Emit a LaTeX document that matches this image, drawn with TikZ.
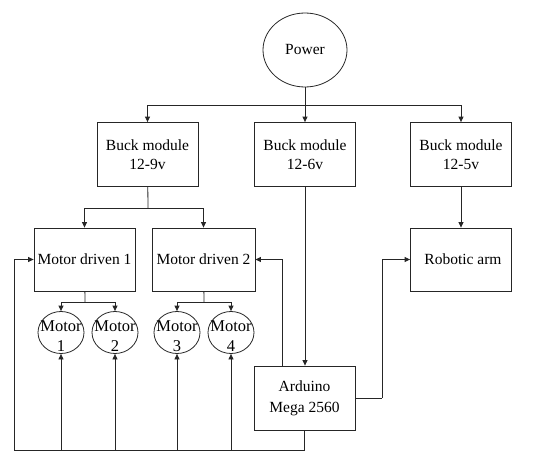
\documentclass[tikz,border=0pt]{standalone}
\usepackage{fontspec}
\setmainfont{Liberation Serif}
\usetikzlibrary{shapes.geometric,arrows.meta}
\begin{document}
\begin{tikzpicture}[x=1pt,y=-1pt,
  every node/.style={font=\fontsize{15.5}{19.5}\selectfont},
  boxnode/.style={draw=black!85, line width=0.8pt, rectangle, minimum width=101pt, minimum height=64pt, align=center, inner sep=0pt},
  ellnode/.style={draw=black!85, line width=0.8pt, ellipse, inner sep=0pt},
  mtext/.style={align=center, inner sep=0pt, font=\fontsize{16.5}{20}\selectfont},
  conn/.style={draw=black!85, line width=0.8pt},
  arr/.style={conn, -{Triangle[length=5.5pt,width=5pt]}}
]
\useasboundingbox (0,0) rectangle (550,463);
% nodes
\node[ellnode, minimum width=84pt, minimum height=74pt] (pw) at (305,50) {Power};
\node[boxnode] (b1) at (147.5,154.5) {Buck module\\12-9v};
\node[boxnode] (b2) at (305,154.5) {Buck module\\12-6v};
\node[boxnode] (b3) at (461,154.5) {Buck module\\12-5v};
\node[boxnode, minimum height=63pt] (md1) at (84.5,259.5) {Motor driven 1};
\node[boxnode, minimum width=103pt, minimum height=63pt] (md2) at (203.5,259.5) {Motor driven 2};
\node[boxnode, minimum height=63pt] (rob) at (461,259.5) {\hspace*{4pt}Robotic arm};
\node[boxnode, font=\fontsize{15.5}{21}\selectfont] (ard) at (304.5,398) {Arduino\\Mega 2560};
\foreach \i/\x in {1/61,2/115,3/177,4/231}{
  \node[ellnode, minimum width=46pt, minimum height=42pt] (m\i) at (\x,332.5) {};
  \node[mtext] (m\i t) at ([yshift=-4pt]m\i.center) {Motor\\\i};
}
% coordinates
\coordinate (pj) at (305,105);
\coordinate (bj) at (148,208);
\coordinate (mj1) at (85,302);
\coordinate (mj2) at (204,302);
\coordinate (busL) at (14,450);
\coordinate (busR) at (304.5,450);
\coordinate (ar) at (382,398);
% connectors
\draw[conn] (pw) -- (pj);
\draw[arr] (pj) -| (b1);
\draw[arr] (pj) -- (b2);
\draw[arr] (pj) -| (b3);
\draw[conn] (b1) -- (bj);
\draw[arr] (bj) -| (md1);
\draw[arr] (bj) -| (md2);
\draw[arr] (b2.south) -- (b2.south |- ard.north);
\draw[arr] (b3) -- (rob);
\draw[conn] (md1) -- (mj1);
\draw[arr] (mj1) -| (m1);
\draw[arr] (mj1) -| (m2);
\draw[conn] (md2) -- (mj2);
\draw[arr] (mj2) -| (m3);
\draw[arr] (mj2) -| (m4);
\draw[conn] (ard) -- (busR) -- (busL);
\draw[arr] (busL) |- (md1.west);
\foreach \i in {1,2,3,4}{
  \draw[arr] (m\i.south |- busL) -- (m\i.south);
}
\draw[arr] ([xshift=-22.5pt]ard.north) |- (md2.east);
\draw[conn] (ard.east) -- (ar);
\draw[arr] (ar) |- (rob.west);
\end{tikzpicture}
\end{document}
